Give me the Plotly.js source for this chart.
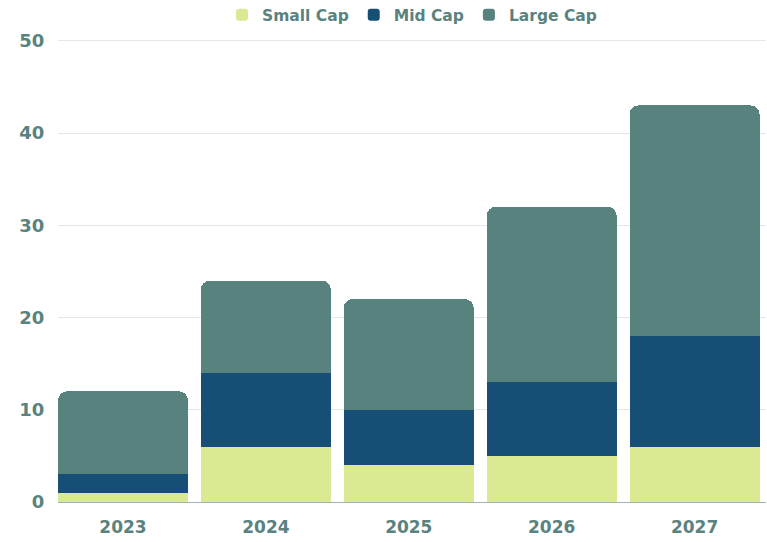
<!DOCTYPE html>
<html>
<head>
<meta charset="utf-8">
<script src="https://cdn.plot.ly/plotly-3.0.1.min.js"></script>
<style>html,body{margin:0;padding:0;background:#fff;}#chart{width:767px;height:542px;}</style>
</head>
<body>
<div id="chart"></div>
<script>
var years = ['2023', '2024', '2025', '2026', '2027'];
var smallCap = [1, 6, 4, 5, 6];
var midCap = [2, 8, 6, 8, 12];
var largeCap = [9, 10, 12, 19, 25];
var seriesNames = ['Small Cap', 'Mid Cap', 'Large Cap'];
var seriesColors = ['#d9ea93', '#174e75', '#58827e'];
var yTicks = [0, 10, 20, 30, 40, 50];

var textColor = '#5a827e';
var fontFam = '"DejaVu Sans", Verdana, sans-serif';
var seriesVals = [smallCap, midCap, largeCap];
var traces = seriesVals.map(function (vals, i) {
  return {
    type: 'bar',
    x: years,
    y: vals,
    name: seriesNames[i],
    marker: { color: seriesColors[i], line: { width: 0 } },
    hoverinfo: 'x+y+name'
  };
});

var layout = {
  width: 767,
  height: 542,
  barmode: 'stack',
  bargap: 0.09,
  barcornerradius: 9,
  paper_bgcolor: '#ffffff',
  plot_bgcolor: '#ffffff',
  margin: { l: 58, r: 1, t: 38, b: 40 },
  font: { family: fontFam, color: textColor, size: 17, weight: 'bold' },
  showlegend: true,
  legend: {
    orientation: 'h',
    x: 0.5, xanchor: 'center',
    y: 0.972, yanchor: 'middle', yref: 'container',
    font: { family: fontFam, color: textColor, size: 15.5, weight: 'bold' },
    itemwidth: 30,
    traceorder: 'normal'
  },
  xaxis: {
    type: 'category',
    range: [-0.455, 4.5],
    showgrid: false,
    showline: false,
    zeroline: false,
    ticks: 'outside',
    ticklen: 10,
    tickcolor: 'rgba(0,0,0,0)',
    tickfont: { family: fontFam, color: textColor, size: 17, weight: 'bold' }
  },
  yaxis: {
    range: [0, 50.3],
    tickvals: yTicks,
    showgrid: true,
    gridcolor: '#e1e9e8',
    gridwidth: 1,
    zeroline: true,
    zerolinecolor: '#9fb5b3',
    zerolinewidth: 1,
    showline: false,
    ticks: 'outside',
    ticklen: 9,
    tickcolor: 'rgba(0,0,0,0)',
    tickfont: { family: fontFam, color: textColor, size: 18, weight: 'bold' }
  }
};

Plotly.newPlot('chart', traces, layout, { displayModeBar: false, staticPlot: true });
</script>
</body>
</html>
